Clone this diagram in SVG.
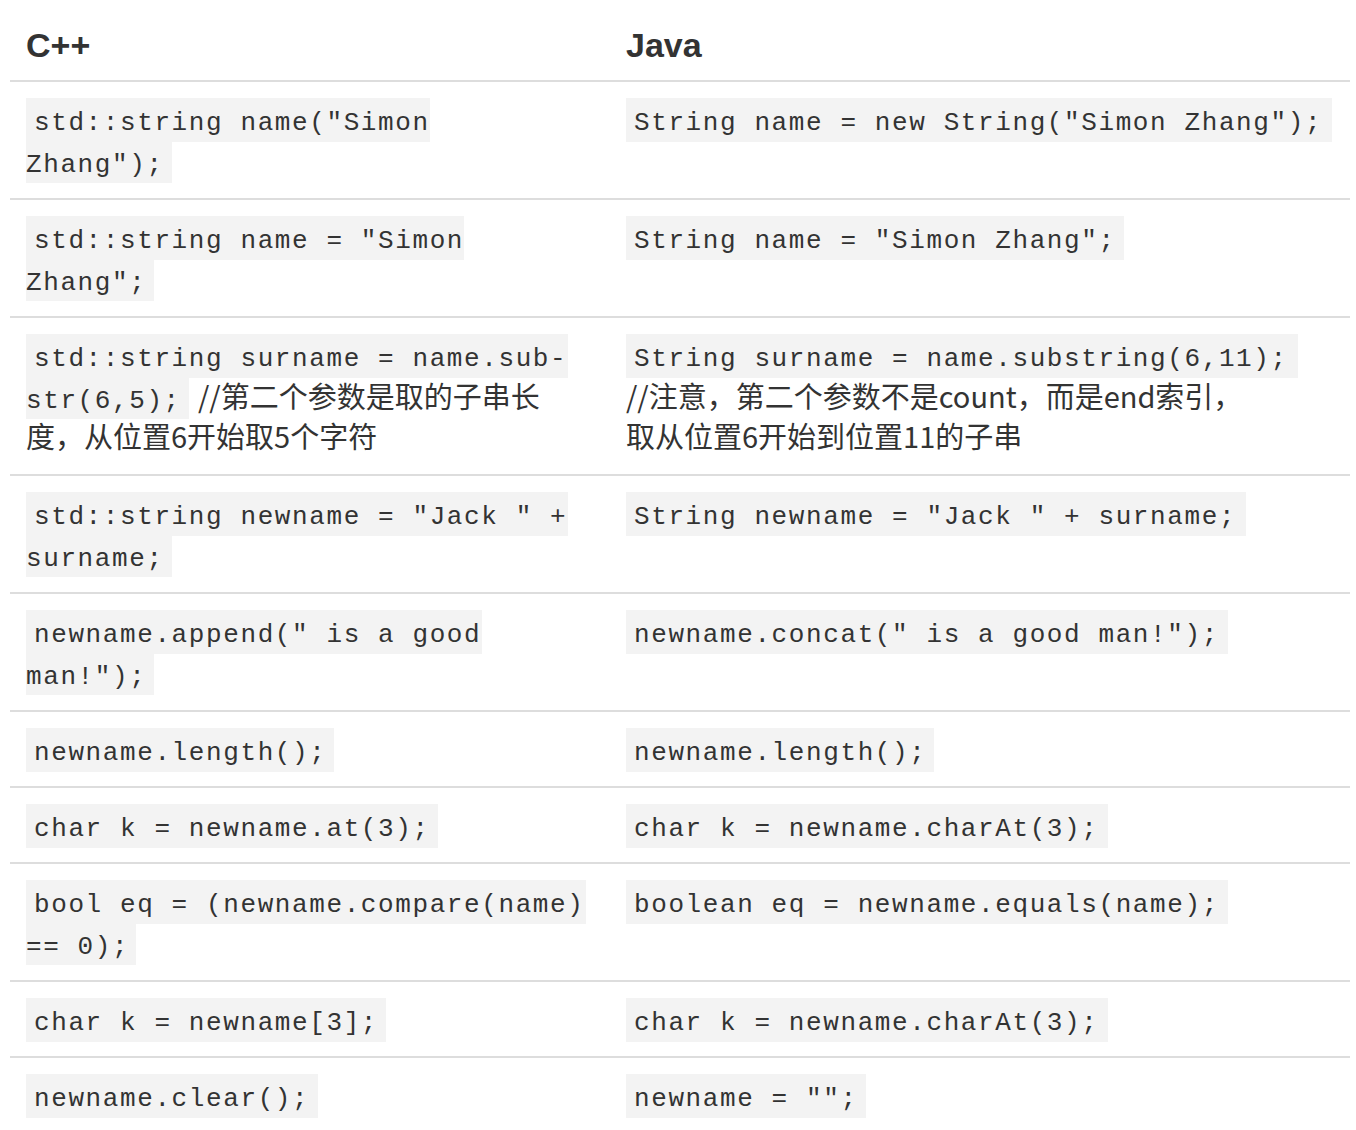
<svg xmlns="http://www.w3.org/2000/svg" width="1356" height="1130" viewBox="0 0 1356 1130">
<style>
.h{font-family:"Liberation Sans","Noto Sans",sans-serif;font-weight:bold;font-size:34px;fill:#333}
.c{font-family:"Liberation Mono","DejaVu Sans Mono",monospace;font-size:26px;letter-spacing:1.6px;fill:#333}
.z{font-family:"Noto Sans CJK SC","Noto Sans",sans-serif;font-size:29px;fill:#333;letter-spacing:0}
.b{fill:#f3f3f3}
.l{stroke:#dddddd;stroke-width:2}
</style>
<rect width="1356" height="1130" fill="#fff"/>
<text class="h" x="26" y="57">C++</text>
<text class="h" x="626" y="57">Java</text>
<g>
<line class="l" x1="10" y1="81" x2="1350" y2="81"/>
<line class="l" x1="10" y1="199" x2="1350" y2="199"/>
<line class="l" x1="10" y1="317" x2="1350" y2="317"/>
<line class="l" x1="10" y1="475" x2="1350" y2="475"/>
<line class="l" x1="10" y1="593" x2="1350" y2="593"/>
<line class="l" x1="10" y1="711" x2="1350" y2="711"/>
<line class="l" x1="10" y1="787" x2="1350" y2="787"/>
<line class="l" x1="10" y1="863" x2="1350" y2="863"/>
<line class="l" x1="10" y1="981" x2="1350" y2="981"/>
<line class="l" x1="10" y1="1057" x2="1350" y2="1057"/>
</g>
<g id="row1">
<rect class="b" x="26" y="98" width="404" height="44"/><rect class="b" x="26" y="142" width="146" height="41"/>
<text class="c" x="34" y="130">std::string name("Simon</text>
<text class="c" x="26" y="172">Zhang");</text>
<rect class="b" x="626" y="98" width="706" height="44"/>
<text class="c" x="634" y="130">String name = new String("Simon Zhang");</text>
</g>
<g id="row2">
<rect class="b" x="26" y="216" width="438" height="44"/><rect class="b" x="26" y="260" width="128" height="41"/>
<text class="c" x="34" y="248">std::string name = "Simon</text>
<text class="c" x="26" y="290">Zhang";</text>
<rect class="b" x="626" y="216" width="498" height="44"/>
<text class="c" x="634" y="248">String name = "Simon Zhang";</text>
</g>
<g id="row3">
<rect class="b" x="26" y="334" width="542" height="44"/><rect class="b" x="26" y="378" width="163" height="41"/>
<text class="c" x="34" y="366">std::string surname = name.sub-</text>
<text class="c" x="26" y="408">str(6,5);</text>
<text class="z" x="198" y="408">//第二个参数是取的子串长</text>
<text class="z" x="26" y="448">度，从位置6开始取5个字符</text>
<rect class="b" x="626" y="334" width="672" height="44"/>
<text class="c" x="634" y="366">String surname = name.substring(6,11);</text>
<text class="z" x="626" y="408">//注意，第二个参数不是count，而是end索引，</text>
<text class="z" x="626" y="448">取从位置6开始到位置11的子串</text>
</g>
<g id="row4">
<rect class="b" x="26" y="492" width="542" height="44"/><rect class="b" x="26" y="536" width="146" height="41"/>
<text class="c" x="34" y="524">std::string newname = "Jack " +</text>
<text class="c" x="26" y="566">surname;</text>
<rect class="b" x="626" y="492" width="620" height="44"/>
<text class="c" x="634" y="524">String newname = "Jack " + surname;</text>
</g>
<g id="row5">
<rect class="b" x="26" y="610" width="456" height="44"/><rect class="b" x="26" y="654" width="128" height="41"/>
<text class="c" x="34" y="642">newname.append(" is a good</text>
<text class="c" x="26" y="684">man!");</text>
<rect class="b" x="626" y="610" width="602" height="44"/>
<text class="c" x="634" y="642">newname.concat(" is a good man!");</text>
</g>
<g id="row6">
<rect class="b" x="26" y="728" width="308" height="44"/>
<text class="c" x="34" y="760">newname.length();</text>
<rect class="b" x="626" y="728" width="308" height="44"/>
<text class="c" x="634" y="760">newname.length();</text>
</g>
<g id="row7">
<rect class="b" x="26" y="804" width="412" height="44"/>
<text class="c" x="34" y="836">char k = newname.at(3);</text>
<rect class="b" x="626" y="804" width="482" height="44"/>
<text class="c" x="634" y="836">char k = newname.charAt(3);</text>
</g>
<g id="row8">
<rect class="b" x="26" y="880" width="560" height="44"/><rect class="b" x="26" y="924" width="110" height="41"/>
<text class="c" x="34" y="912">bool eq = (newname.compare(name)</text>
<text class="c" x="26" y="954">== 0);</text>
<rect class="b" x="626" y="880" width="602" height="44"/>
<text class="c" x="634" y="912">boolean eq = newname.equals(name);</text>
</g>
<g id="row9">
<rect class="b" x="26" y="998" width="360" height="44"/>
<text class="c" x="34" y="1030">char k = newname[3];</text>
<rect class="b" x="626" y="998" width="482" height="44"/>
<text class="c" x="634" y="1030">char k = newname.charAt(3);</text>
</g>
<g id="row10">
<rect class="b" x="26" y="1074" width="292" height="44"/>
<text class="c" x="34" y="1106">newname.clear();</text>
<rect class="b" x="626" y="1074" width="240" height="44"/>
<text class="c" x="634" y="1106">newname = "";</text>
</g>
</svg>
